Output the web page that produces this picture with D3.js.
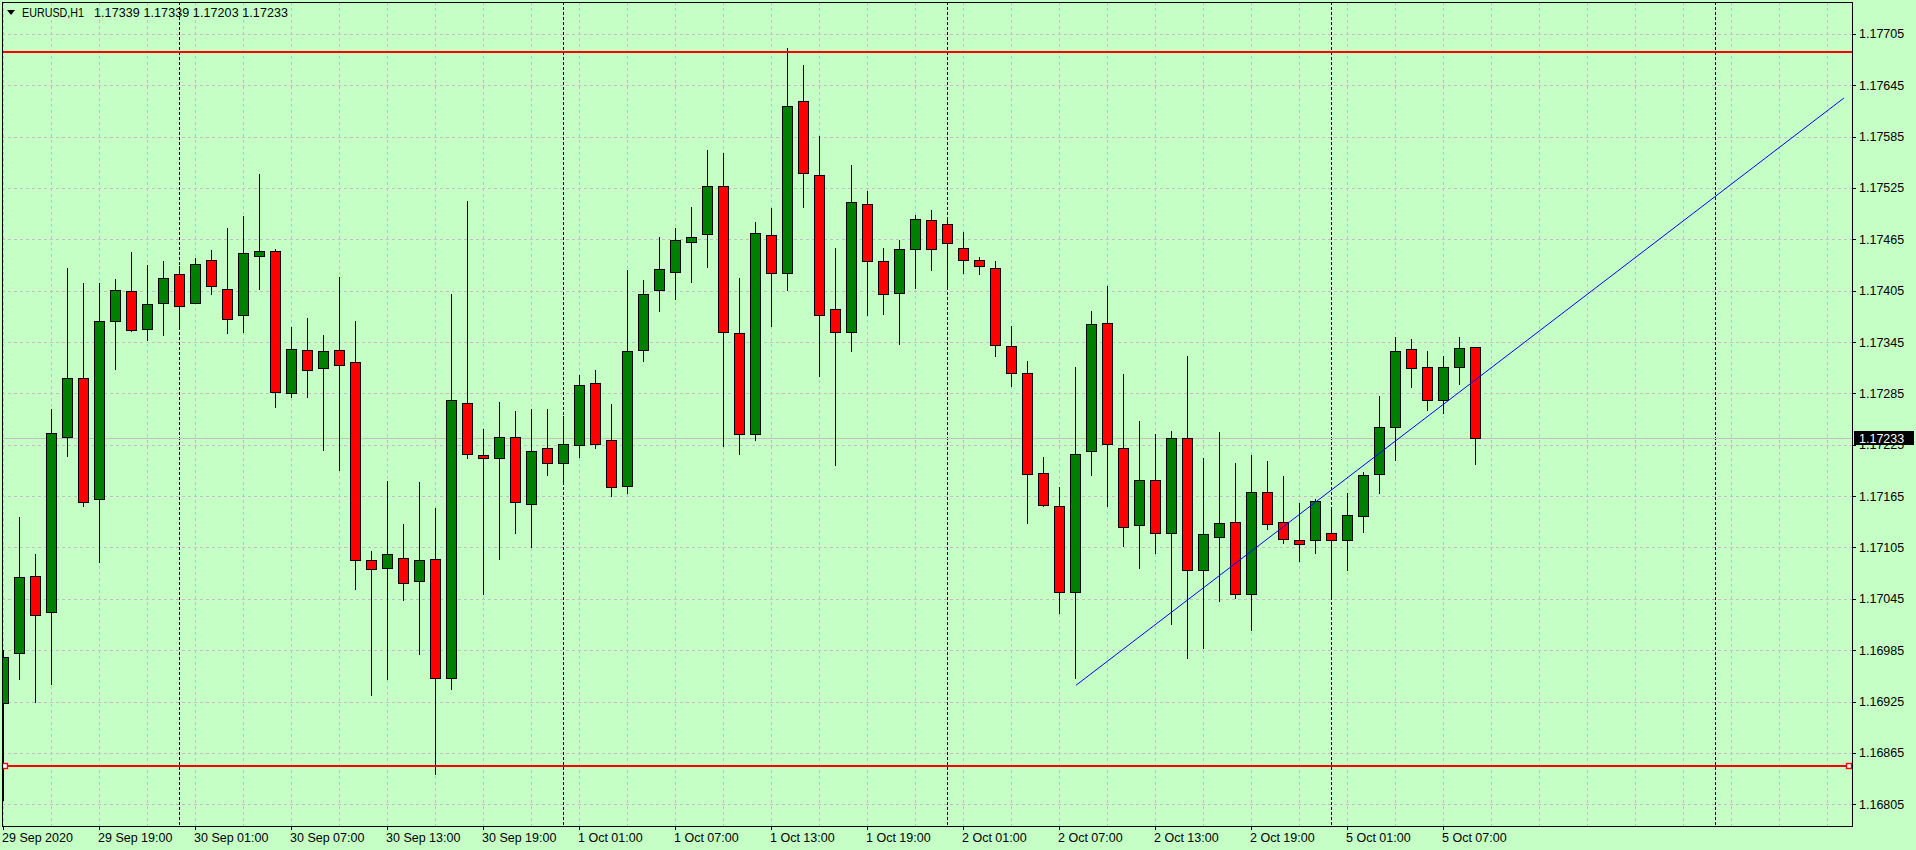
<!DOCTYPE html>
<html>
<head>
<meta charset="utf-8">
<script src="https://cdn.jsdelivr.net/npm/d3@7"></script>
<style>
  html, body { margin: 0; padding: 0; background: #c6ffc6; }
  svg { display: block; }
  text { font-family: "Liberation Sans", Arial, sans-serif; font-size: 12.5px; fill: #000; }
</style>
</head>
<body>
<svg id="chart" width="1916" height="850"></svg>
<script>
// ---------- DATA ----------
const symbolTitle = "EURUSD,H1";
const lastBarOHLC = ["1.17339", "1.17339", "1.17203", "1.17233"];

// bar 0 = 29 Sep 2020 13:00, hourly bars
const opens = [1.16923,1.16981,1.17072,1.17030,1.17234,1.17303,1.17161,1.17370,1.17405,1.17360,
  1.17391,1.17425,1.17390,1.17441,1.17407,1.17376,1.17445,1.17451,1.17286,1.17336,
  1.17315,1.17336,1.17322,1.17090,1.17081,1.17093,1.17066,1.17091,1.16952,1.17274,
  1.17213,1.17209,1.17234,1.17156,1.17221,1.17204,1.17225,1.17297,1.17231,1.17176,
  1.17336,1.17405,1.17427,1.17462,1.17471,1.17527,1.17356,1.17237,1.17470,1.17426,
  1.17626,1.17540,1.17384,1.17357,1.17506,1.17440,1.17403,1.17454,1.17488,1.17483,
  1.17455,1.17441,1.17432,1.17340,1.17309,1.17192,1.17153,1.17053,1.17218,1.17367,
  1.17221,1.17131,1.17184,1.17122,1.17233,1.17079,1.17117,1.17135,1.17051,1.17170,
  1.17135,1.17114,1.17114,1.17122,1.17114,1.17142,1.17191,1.17246,1.17337,1.17316,
  1.17278,1.17316,1.17339];
const highs = [1.16985,1.17141,1.17097,1.17267,1.17431,1.17414,1.17414,1.17419,1.17450,1.17435,
  1.17440,1.17434,1.17443,1.17452,1.17478,1.17492,1.17541,1.17454,1.17362,1.17373,
  1.17353,1.17421,1.17369,1.17101,1.17183,1.17132,1.17181,1.17151,1.17401,1.17510,
  1.17243,1.17275,1.17264,1.17267,1.17267,1.17258,1.17306,1.17312,1.17273,1.17429,
  1.17417,1.17468,1.17478,1.17503,1.17569,1.17566,1.17420,1.17485,1.17502,1.17688,
  1.17668,1.17586,1.17455,1.17552,1.17521,1.17455,1.17464,1.17493,1.17499,1.17487,
  1.17474,1.17444,1.17440,1.17364,1.17323,1.17211,1.17176,1.17316,1.17381,1.17410,
  1.17308,1.17253,1.17237,1.17241,1.17329,1.17210,1.17240,1.17204,1.17213,1.17206,
  1.17188,1.17157,1.17162,1.17149,1.17169,1.17193,1.17282,1.17351,1.17349,1.17335,
  1.17329,1.17351,1.17339];
const lows = [1.16810,1.16951,1.16925,1.16945,1.17212,1.17154,1.17088,1.17313,1.17358,1.17347,
  1.17353,1.17360,1.17390,1.17401,1.17355,1.17357,1.17407,1.17269,1.17281,1.17281,
  1.17219,1.17196,1.17056,1.16933,1.16951,1.17044,1.16980,1.16840,1.16940,1.17210,
  1.17051,1.17091,1.17122,1.17105,1.17190,1.17183,1.17211,1.17221,1.17165,1.17169,
  1.17323,1.17381,1.17395,1.17415,1.17433,1.17223,1.17214,1.17231,1.17364,1.17406,
  1.17503,1.17305,1.17201,1.17334,1.17376,1.17378,1.17343,1.17408,1.17429,1.17409,
  1.17426,1.17425,1.17329,1.17294,1.17134,1.17153,1.17028,1.16952,1.17190,1.17153,
  1.17107,1.17081,1.17098,1.17016,1.16976,1.16988,1.17042,1.17046,1.17009,1.17126,
  1.17110,1.17089,1.17098,1.17045,1.17079,1.17123,1.17169,1.17207,1.17292,1.17266,
  1.17262,1.17296,1.17203];
const closes = [1.16977,1.17070,1.17026,1.17239,1.17303,1.17158,1.17369,1.17406,1.17360,1.17389,
  1.17420,1.17388,1.17436,1.17411,1.17372,1.17449,1.17451,1.17286,1.17337,1.17313,
  1.17335,1.17319,1.17091,1.17079,1.17097,1.17064,1.17090,1.16952,1.17277,1.17214,
  1.17209,1.17234,1.17158,1.17218,1.17204,1.17226,1.17295,1.17226,1.17176,1.17334,
  1.17401,1.17430,1.17464,1.17468,1.17527,1.17357,1.17238,1.17472,1.17426,1.17621,
  1.17542,1.17377,1.17357,1.17509,1.17439,1.17401,1.17454,1.17489,1.17454,1.17461,
  1.17441,1.17434,1.17342,1.17309,1.17191,1.17155,1.17052,1.17214,1.17366,1.17226,
  1.17129,1.17184,1.17122,1.17233,1.17079,1.17121,1.17133,1.17051,1.17170,1.17133,
  1.17115,1.17109,1.17159,1.17114,1.17143,1.17190,1.17246,1.17335,1.17315,1.17277,
  1.17316,1.17338,1.17233];

// price axis
const priceTicks = [1.17705,1.17645,1.17585,1.17525,1.17465,1.17405,1.17345,1.17285,
  1.17225,1.17165,1.17105,1.17045,1.16985,1.16925,1.16865,1.16805];
const priceTickLabels = ["1.17705","1.17645","1.17585","1.17525","1.17465","1.17405","1.17345","1.17285",
  "1.17225","1.17165","1.17105","1.17045","1.16985","1.16925","1.16865","1.16805"];

// time axis (bar index of each label)
const timeTickBars = [0,6,12,18,24,30,36,42,48,54,60,66,72,78,84,90];
const timeTickLabels = ["29 Sep 2020","29 Sep 19:00","30 Sep 01:00","30 Sep 07:00","30 Sep 13:00",
  "30 Sep 19:00","1 Oct 01:00","1 Oct 07:00","1 Oct 13:00","1 Oct 19:00","2 Oct 01:00",
  "2 Oct 07:00","2 Oct 13:00","2 Oct 19:00","5 Oct 01:00","5 Oct 07:00"];

// day separators (first bar of each day)
const daySeparatorBars = [11,35,59,83,107];

// horizontal levels and trend line
const levelPrices = [1.17684, 1.16850];
const trendBars = [67.06, 115.06];
const trendPrices = [1.16944, 1.17630];
const bidPrice = 1.17233;
const bidLabel = "1.17233";

// ---------- LAYOUT ----------
const W = 1916, H = 850;
const L = 2, R = 1852, T = 2, B = 826;
const bg = "#c6ffc6";
const gridColor = "#c6bcc8";

const svg = d3.select("#chart");
svg.append("rect").attr("width", W).attr("height", H).attr("fill", bg);

const x = d3.scaleLinear().domain([0, 115.5625]).range([3, 1852]);
const y = d3.scaleLinear().domain([1.16805, 1.17705]).range([804.3, 33.8]);

const px = v => Math.round(v) + 0.5;

svg.append("defs").append("clipPath").attr("id", "plot")
  .append("rect").attr("x", L + 1).attr("y", T + 1).attr("width", R - L - 1).attr("height", B - T - 1);

// grid
const grid = svg.append("g").attr("shape-rendering", "crispEdges")
  .attr("stroke", gridColor).attr("stroke-dasharray", "3,3").attr("stroke-width", 1);
grid.selectAll("line.h").data(priceTicks).join("line")
  .attr("x1", L).attr("x2", R).attr("y1", d => px(y(d))).attr("y2", d => px(y(d)));
const vGridBars = d3.range(0, 115, 3);
grid.selectAll("line.v").data(vGridBars).join("line")
  .attr("x1", d => px(x(d))).attr("x2", d => px(x(d))).attr("y1", T).attr("y2", B);

// day separators
svg.append("g").attr("shape-rendering", "crispEdges")
  .selectAll("line").data(daySeparatorBars).join("line")
  .attr("x1", d => px(x(d))).attr("x2", d => px(x(d))).attr("y1", T).attr("y2", B)
  .attr("stroke", "#000").attr("stroke-dasharray", "3,2");

// bid line
svg.append("line").attr("shape-rendering", "crispEdges")
  .attr("x1", L).attr("x2", R).attr("y1", px(y(bidPrice))).attr("y2", px(y(bidPrice)))
  .attr("stroke", "#c0c0c0");

// candles
const bars = opens.map((o, i) => ({ i, o, h: highs[i], l: lows[i], c: closes[i] }));
const cg = svg.append("g").attr("clip-path", "url(#plot)").attr("shape-rendering", "crispEdges");
const candle = cg.selectAll("g").data(bars).join("g");
candle.append("line")
  .attr("x1", d => px(x(d.i))).attr("x2", d => px(x(d.i)))
  .attr("y1", d => Math.round(y(d.h))).attr("y2", d => Math.round(y(d.l)) + 1)
  .attr("stroke", "#000");
candle.append("rect")
  .attr("x", d => Math.round(x(d.i)) - 5 + 0.5)
  .attr("width", 10)
  .attr("y", d => Math.round(Math.min(y(d.o), y(d.c))) + 0.5)
  .attr("height", d => Math.max(1, Math.round(Math.abs(y(d.o) - y(d.c)))))
  .attr("fill", d => d.c >= d.o ? "#008000" : "#ff0000")
  .attr("stroke", "#000");

// horizontal levels
svg.append("g").selectAll("line").data(levelPrices).join("line")
  .attr("x1", L).attr("x2", R).attr("y1", d => Math.round(y(d))).attr("y2", d => Math.round(y(d)))
  .attr("stroke", "#ff0000").attr("stroke-width", 2).attr("shape-rendering", "crispEdges");
// selection markers on the lower level
svg.append("g").selectAll("rect").data([L + 3, R - 3]).join("rect")
  .attr("x", d => d - 2.5).attr("y", Math.round(y(levelPrices[1])) - 2.5)
  .attr("width", 5).attr("height", 5)
  .attr("fill", "#ffffff").attr("stroke", "#ff0000").attr("stroke-width", 1.4);

// trend line
svg.append("line")
  .attr("x1", x(trendBars[0])).attr("y1", y(trendPrices[0]))
  .attr("x2", x(trendBars[1])).attr("y2", y(trendPrices[1]))
  .attr("stroke", "#0000ff").attr("stroke-width", 1);

// frame
svg.append("rect").attr("x", L + 0.5).attr("y", T + 0.5).attr("width", R - L).attr("height", B - T)
  .attr("fill", "none").attr("stroke", "#000").attr("shape-rendering", "crispEdges");

// price axis
const pAxis = svg.append("g");
pAxis.selectAll("line").data(priceTicks).join("line")
  .attr("x1", R).attr("x2", R + 4).attr("y1", d => px(y(d))).attr("y2", d => px(y(d)))
  .attr("stroke", "#000").attr("shape-rendering", "crispEdges");
pAxis.selectAll("text").data(priceTicks).join("text")
  .attr("x", 1859).attr("y", d => y(d) + 4.5)
  .text((d, k) => priceTickLabels[k]);

// time axis
const tAxis = svg.append("g");
tAxis.selectAll("line").data(timeTickBars).join("line")
  .attr("x1", d => px(x(d))).attr("x2", d => px(x(d))).attr("y1", B).attr("y2", B + 4)
  .attr("stroke", "#000").attr("shape-rendering", "crispEdges");
tAxis.selectAll("text").data(timeTickBars).join("text")
  .attr("x", d => x(d) - 1).attr("y", 842)
  .text((d, k) => timeTickLabels[k]);

// bid price label
const by = Math.round(y(bidPrice));
svg.append("rect").attr("x", 1854).attr("y", by - 7).attr("width", 60).attr("height", 14).attr("fill", "#000");
svg.append("text").attr("x", 1859).attr("y", by + 4.5).style("fill", "#ffffff").text(bidLabel);

// title
svg.append("path").attr("d", "M7,10 L15,10 L11,15 Z").attr("fill", "#000");
svg.append("text").attr("x", 22).attr("y", 17)
  .attr("textLength", 62).attr("lengthAdjust", "spacingAndGlyphs").text(symbolTitle);
svg.append("text").attr("x", 94).attr("y", 17)
  .attr("textLength", 194).attr("lengthAdjust", "spacing").text(lastBarOHLC.join(" "));
</script>
</body>
</html>
